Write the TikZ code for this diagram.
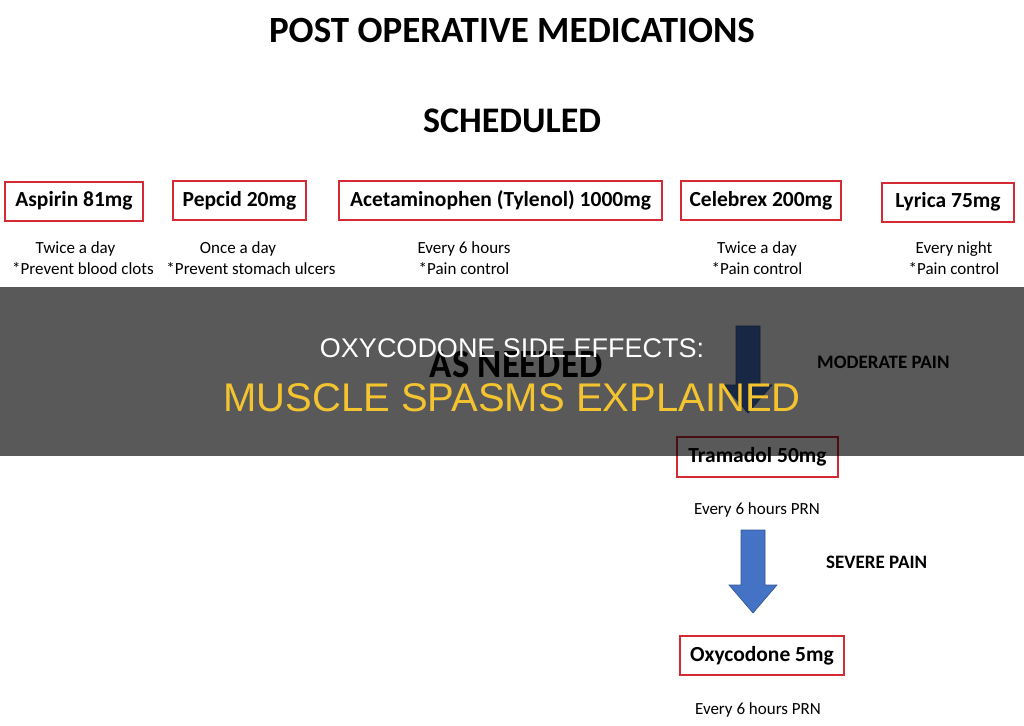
\documentclass[tikz,border=0pt]{standalone}
\usepackage{fontspec}
\setmainfont{Carlito}
\newfontfamily\bannerfont{Liberation Sans}
\newfontfamily\neededfont[FakeStretch=0.92]{Carlito}
\definecolor{rxred}{HTML}{D42A34}
\definecolor{rxblue}{HTML}{4472C4}
\definecolor{bannergold}{HTML}{F4C430}
\tikzset{
  drug/.style={draw=rxred,line width=2pt,minimum height=39pt,inner xsep=8pt,
    font=\fontsize{21.5}{25}\selectfont\bfseries},
  dose/.style={align=center,anchor=north,inner sep=0pt,font=\fontsize{17}{21}\selectfont},
  pain/.style={anchor=west,inner sep=0pt,font=\fontsize{19}{22}\selectfont\bfseries},
  heading/.style={anchor=base,inner sep=0pt,font=\bfseries},
  banner/.style={anchor=base,inner sep=0pt,font=\bannerfont}
}
\begin{document}
\begin{tikzpicture}[x=1pt,y=-1pt]
  \useasboundingbox[fill=white] (0,0) rectangle (1024,725);
  \node[heading,font=\fontsize{37}{42}\selectfont\bfseries] (title) at (512,42) {POST OPERATIVE MEDICATIONS};
  \node[heading,font=\fontsize{36}{42}\selectfont\bfseries] (sched) at (512,132) {SCHEDULED};
  \node[heading,font=\neededfont\fontsize{40}{46}\selectfont\bfseries] (asneeded) at (516,377) {AS NEEDED};
  % scheduled drugs, each with its dose line underneath
  \node[drug,minimum width=138pt] (aspirin) at (74,201) {Aspirin 81mg};
  \node[drug,minimum width=133pt] (pepcid) at (239.5,200.5) {Pepcid 20mg};
  \node[drug,minimum width=323pt] (tylenol) at (500.5,200.5) {Acetaminophen (Tylenol) 1000mg};
  \node[drug,minimum width=160pt] (celebrex) at (761,200.5) {Celebrex 200mg};
  \node[drug,minimum width=132pt] (lyrica) at (948,202) {Lyrica 75mg};
  \node[dose] (aspirindose) at (83,241) {\hspace*{-15pt}Twice a day\\*Prevent blood clots};
  \node[dose] (pepciddose) at (251,241) {\hspace*{-26pt}Once a day\\*Prevent stomach ulcers};
  \node[dose] (tylenoldose) at (464,241) {Every 6 hours\\*Pain control};
  \node[dose] (celebrexdose) at (757,241) {Twice a day\\*Pain control};
  \node[dose] (lyricadose) at (954,241) {Every night\\*Pain control};
  % as needed ladder
  \node[drug,minimum width=161pt,minimum height=40pt] (tramadol) at (757.5,457) {Tramadol 50mg};
  \node[dose] (tramadoldose) at (757,502) {Every 6 hours PRN};
  \node[drug,minimum width=164pt] (oxy) at (762,655.5) {Oxycodone 5mg};
  \node[dose] (oxydose) at (758,702) {Every 6 hours PRN};
  \foreach \cx/\ty/\len in {748/326/59,753/530/55} {
    \begin{scope}[shift={(\cx,\ty)}]
      \filldraw[fill=rxblue,draw=rxblue!75!black,line width=0.6pt]
        (-12,0) -- (12,0) -- (12,\len) -- (24,\len) -- (0,\len+28)
        -- (-24,\len) -- (-12,\len) -- cycle;
    \end{scope}
  }
  \node[pain] (moderate) at (817,362) {MODERATE PAIN};
  \node[pain] (severe) at (826,562) {SEVERE PAIN};
  % overlay band with the caption
  \fill[black,opacity=0.65] (0,287) rectangle (1024,456);
  \node[banner,text=white,font=\bannerfont\fontsize{27}{30}\selectfont] (caption) at (512,357) {OXYCODONE SIDE EFFECTS:};
  \node[banner,text=bannergold,font=\bannerfont\fontsize{40}{44}\selectfont] (subcaption) at (512,411) {MUSCLE SPASMS EXPLAINED};
\end{tikzpicture}
\end{document}
